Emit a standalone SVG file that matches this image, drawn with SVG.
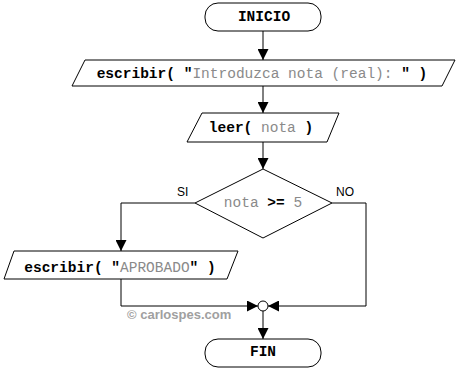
<svg xmlns="http://www.w3.org/2000/svg" width="460" height="370" viewBox="0 0 460 370">
<style>
.shape{fill:#fff;stroke:#000;stroke-width:1}
.conn{fill:none;stroke:#000;stroke-width:1}
.code{font-family:"Liberation Mono","Courier New",monospace;font-size:14.5px;text-anchor:middle}
.kw{font-weight:bold;fill:#000}
.str{font-weight:normal;fill:#8a8a8a}
.lbl{font-family:"Liberation Sans",Arial,sans-serif;font-size:12px;fill:#000}
.copy{font-family:"Liberation Sans",Arial,sans-serif;font-size:13px;font-weight:bold;fill:#a0a0a0}
</style>
<defs>
<marker id="arr" markerUnits="userSpaceOnUse" markerWidth="11" markerHeight="11" refX="11" refY="5.5" orient="auto">
<path d="M0,0 L11,5.5 L0,11 Z" fill="#000"/>
</marker>
</defs>
<rect width="460" height="370" fill="#fff"/>
<g id="connectors">
<path class="conn" d="M263,31 V60" marker-end="url(#arr)"/>
<path class="conn" d="M263,86 V113" marker-end="url(#arr)"/>
<path class="conn" d="M263,142 V169" marker-end="url(#arr)"/>
<path class="conn" d="M195,203 H121 V251" marker-end="url(#arr)"/>
<path class="conn" d="M121,279 V306 H258" marker-end="url(#arr)"/>
<path class="conn" d="M332,203 H366 V306 H268" marker-end="url(#arr)"/>
<path class="conn" d="M263,311 V339" marker-end="url(#arr)"/>
</g>
<g id="inicio">
<rect class="shape" x="205" y="3" width="116" height="28" rx="13" ry="13"/>
<text class="code kw" x="264" y="21">INICIO</text>
</g>
<g id="escribir1">
<polygon class="shape" points="85,60 455,60 442,86 72,86"/>
<text class="code" x="262" y="78"><tspan class="kw">escribir( "</tspan><tspan class="str">Introduzca nota (real): </tspan><tspan class="kw">" )</tspan></text>
</g>
<g id="leer">
<polygon class="shape" points="202,113 339,113 327,142 187,142"/>
<text class="code" x="261" y="132"><tspan class="kw">leer( </tspan><tspan class="str">nota</tspan><tspan class="kw"> )</tspan></text>
</g>
<g id="decision">
<polygon class="shape" points="263,169 332,203 263,238 195,203"/>
<text class="code" x="263" y="207"><tspan class="str">nota </tspan><tspan class="kw">&gt;=</tspan><tspan class="str"> 5</tspan></text>
<text class="lbl" x="177" y="196">SI</text>
<text class="lbl" x="336" y="196">NO</text>
</g>
<g id="escribir2">
<polygon class="shape" points="14,251 238,251 227,279 4,279"/>
<text class="code" x="120" y="272"><tspan class="kw">escribir( "</tspan><tspan class="str">APROBADO</tspan><tspan class="kw">" )</tspan></text>
</g>
<g id="join">
<circle class="shape" cx="263" cy="306" r="5"/>
</g>
<g id="fin">
<rect class="shape" x="205" y="339" width="116" height="28" rx="13" ry="13"/>
<text class="code kw" x="263" y="356">FIN</text>
</g>
<text class="copy" x="127" y="319">© carlospes.com</text>
</svg>
